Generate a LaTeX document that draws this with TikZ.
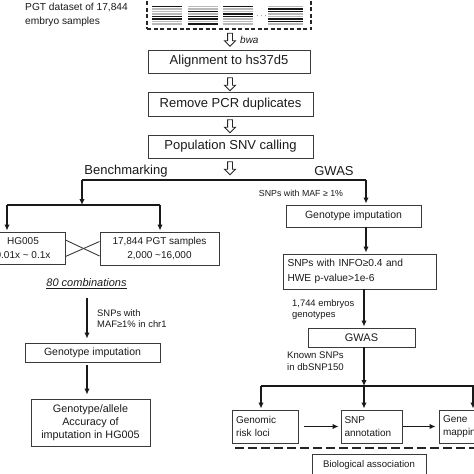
\documentclass[tikz,border=0pt]{standalone}
\usepackage{fontspec}
\setmainfont{Liberation Sans}
\usetikzlibrary{arrows.meta,shapes.arrows}
\definecolor{boxline}{HTML}{3A3A3A}
\definecolor{txt}{HTML}{1A1A1A}
\colorlet{dk}{black!90}
\colorlet{lg}{gray!55}
\newcommand\fsz[2]{\fontsize{#1}{#2}\selectfont}
\begin{document}
\begin{tikzpicture}[x=1pt,y=-1pt,
  box/.style={draw=boxline,line width=0.9pt,inner sep=0pt,text=txt,align=center},
  bigbox/.style={box,font=\fsz{13}{15}},
  midbox/.style={box,font=\fsz{10.5}{13}},
  lbl/.style={inner sep=0pt,text=txt,align=left,font=\fsz{9.4}{10.5}},
  hollow/.style={shape=single arrow,draw=black!85,line width=0.9pt,rotate=-90,
     minimum height=13pt,inner sep=2pt,single arrow head extend=3pt,
     single arrow tip angle=90},
  arr/.style={-{Latex[length=6pt,width=5.5pt]},line width=1.4pt,black!90},
  ln/.style={line width=1.4pt,black!90}]
\useasboundingbox (0,0) rectangle (474,474);
\clip (0,0) rectangle (474,474);

% top data block
\node[inner sep=0pt,anchor=north west,align=left,text=txt,font=\fsz{10.2}{14}] (title) at (25,2.5) {PGT dataset of 17,844\\embryo samples};
\node[draw=black!85,dashed,dash pattern=on 4pt off 2.5pt,line width=1.1pt,minimum width=164pt,minimum height=32pt,inner sep=0pt] (data) at (229,13) {};
\foreach \gx/\gw/\pat in {152/30/{dk,lg,lg,lg,dk,dk,lg,lg},188/30/{lg,lg,dk,lg,dk,dk,lg,dk},223/30/{dk,lg,lg,dk,dk,lg,lg,lg},268/35/{lg,dk,dk,lg,lg,dk,dk,lg}}{
  \foreach \c [count=\i from 0] in \pat {
    \draw[color=\c,line width=1.2pt] (\gx,{6.5+2.5*\i}) -- ++(\gw,0);
  }
}
\node[inner sep=0pt,text=dk,font=\fsz{9}{10}] (dots) at (261.5,16) {$\cdots$};

\node[hollow] (h1) at (230,38.5) {};
\node[inner sep=0pt,text=txt,font=\fsz{10}{12}\itshape,anchor=west] (bwa) at (240,40) {bwa};
\node[bigbox,minimum width=162pt,minimum height=23pt] (align) at (229,61.5) {Alignment to hs37d5};
\node[hollow] (h2) at (230,83) {};
\node[bigbox,minimum width=165pt,minimum height=24pt] (dup) at (230.5,104) {Remove PCR duplicates};
\node[hollow] (h3) at (230,125) {};
\node[bigbox,minimum width=165pt,minimum height=23pt] (pop) at (230.5,146.5) {Population SNV calling};
\node[hollow] (h4) at (230,167) {};

% main split
\coordinate (bl) at (82,180);
\coordinate (gr) at (366,180);
\draw[ln] (bl) -- (gr);
\node[inner sep=0pt,text=txt,font=\fsz{13}{15}] (bench) at (126,171) {Benchmarking};
\node[inner sep=0pt,text=txt,font=\fsz{13}{15}] (gwaslbl) at (334,171) {GWAS};

% left branch
\coordinate (bj) at (82,205);
\coordinate (bjl) at (7,205);
\coordinate (bjr) at (160,205);
\draw[arr] (bl) -- (bj);
\draw[ln] (bjl) -- (bjr);
\node[midbox,font=\fsz{10}{14},minimum width=84pt,minimum height=32pt] (hg) at (23,248) {HG005\\0.01x \textasciitilde{} 0.1x};
\node[midbox,font=\fsz{10}{14},minimum width=119pt,minimum height=33pt] (pgt) at (159.5,248.5) {17,844 PGT samples\\2,000 \textasciitilde16,000};
\draw[arr,shorten >=1pt] (bjl) -- (hg.north -| bjl);
\draw[arr,shorten >=1pt] (bjr) -- (pgt.north -| bjr);
\draw[line width=0.9pt,boxline] ([yshift=8pt]hg.east) -- ([yshift=-7.5pt]pgt.west);
\draw[line width=0.9pt,boxline] ([yshift=-8.5pt]hg.east) -- ([yshift=7pt]pgt.west);

\node[inner sep=0pt,text=txt,font=\fsz{11}{13}] (comb) at (86.5,284) {\underline{\textit{80 combinations}}};
\coordinate (la) at (87,298);
\node[midbox,minimum width=135pt,minimum height=19pt] (gimpl) at (92.5,352.5) {Genotype imputation};
\draw[arr,shorten >=4pt] (la) -- (gimpl.north -| la);
\node[lbl,anchor=north west] (maf1) at (97,309.5) {SNPs with\\MAF≥1\% in chr1};
\node[midbox,font=\fsz{10.8}{12.8},minimum width=119pt,minimum height=47pt] (acc) at (90.5,422.5) {Genotype/allele\\Accuracy of\\imputation in HG005};
\draw[arr,shorten <=3pt,shorten >=4pt] (gimpl.south -| la) -- (acc.north -| la);

% right branch
\node[lbl,font=\fsz{8.8}{10}] (maf) at (301,193) {SNPs with MAF ≥ 1\%};
\node[midbox,minimum width=135pt,minimum height=22pt] (gimp) at (353.5,216) {Genotype imputation};
\draw[arr,shorten >=1pt] (gr) -- (gimp.north -| gr);
\node[box,align=left,font=\fsz{10.2}{15.5},minimum width=153pt,minimum height=35pt,text width=144pt,inner xsep=4.5pt] (info) at (359.5,271.5) {SNPs with INFO≥0.4 and\\HWE p-value>1e-6};
\draw[arr,shorten >=1pt] (gimp.south -| gr) -- (info.north -| gr);
\coordinate (rc) at (364,0);
\node[lbl,anchor=north west] (emb) at (292,299.5) {1,744 embryos\\genotypes};
\node[midbox,font=\fsz{11}{13},minimum width=107pt,minimum height=19pt] (gwas) at (361.5,337.5) {GWAS};
\draw[arr,shorten >=1pt] (info.south -| rc) -- (gwas.north -| rc);
\node[lbl,anchor=north west,font=\fsz{9.6}{11.5}] (known) at (287,352) {Known SNPs\\in dbSNP150};
\coordinate (rj) at (364,386);
\coordinate (rjl) at (261,386);
\coordinate (rjr) at (473,386);
\coordinate (rje) at (480,386);
\draw[arr] (gwas.south -| rj) -- (rj);
\draw[ln] (rjl) -- (rje);
\node[box,align=left,font=\fsz{10}{13.5},minimum width=66pt,minimum height=33pt,text width=58pt,inner xsep=4pt] (risk) at (265,426.5) {Genomic\\risk loci};
\node[box,align=left,font=\fsz{10}{13.5},minimum width=61pt,minimum height=33pt,text width=54pt,inner xsep=3.5pt] (snp) at (371.5,426.5) {SNP\\annotation};
\node[box,align=left,font=\fsz{10}{13.5},minimum width=70pt,minimum height=33pt,text width=62pt,inner xsep=4pt] (gene) at (474,426.5) {Gene\\mapping};
\draw[arr,shorten >=1pt] (rjl) -- (risk.north -| rjl);
\draw[arr,shorten >=1pt] (rj) -- (snp.north -| rj);
\draw[arr,shorten >=1pt] (rjr) -- (gene.north -| rjr);
\draw[arr] ([xshift=6pt]risk.east) -- ([xshift=-2pt]snp.west);
\draw[arr] ([xshift=1pt]snp.east) -- ([xshift=-3pt]gene.west);
\coordinate (dl) at (235,448);
\coordinate (dr) at (480,448);
\draw[line width=1.2pt,black!85,dash pattern=on 9pt off 4pt] (dl) -- (dr);
\node[box,font=\fsz{9.6}{12},minimum width=114pt,minimum height=30pt,text depth=0pt] (bio) at (369,469) {};
\node[inner sep=0pt,text=txt,font=\fsz{9.6}{12}] (biot) at (369,465) {Biological association};
\end{tikzpicture}
\end{document}
